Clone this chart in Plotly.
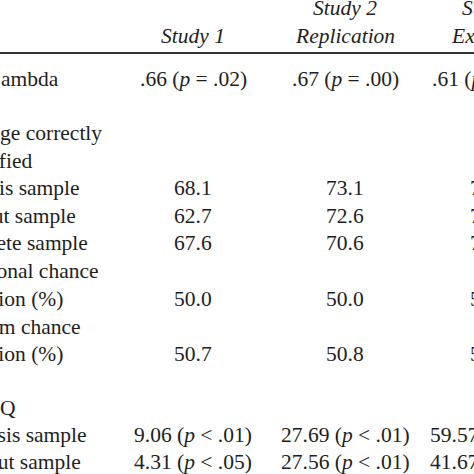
import plotly.graph_objects as go

headers_top = ["", "Study 2", "Study 3"]
headers_bot = ["Study 1", "Replication", "Extension"]
row_labels = ["Wilks' Lambda", "Percentage correctly", "classified", "Analysis sample",
              "Holdout sample", "Complete sample", "Proportional chance", "criterion (%)",
              "Maximum chance", "criterion (%)", "Press's Q", "Analysis sample", "Holdout sample"]
study1 = [".66 (<i>p</i> = .02)", "", "", "68.1", "62.7", "67.6", "", "50.0", "", "50.7", "",
          "9.06 (<i>p</i> < .01)", "4.31 (<i>p</i> < .05)"]
study2 = [".67 (<i>p</i> = .00)", "", "", "73.1", "72.6", "70.6", "", "50.0", "", "50.8", "",
          "27.69 (<i>p</i> < .01)", "27.56 (<i>p</i> < .01)"]
study3 = [".61 (<i>p</i> = .00)", "", "", "75.3", "71.9", "73.6", "", "50.0", "", "50.1", "",
          "59.57 (<i>p</i> < .01)", "41.67 (<i>p</i> < .01)"]

row_y = [79, 133, 161, 188, 216, 243, 271, 299, 327, 354, 408, 435, 462]
label_end = [61, 104, 34, 82, 78, 90, 101, 65, 83, 65, 18, 89, 83]
col_x = [193, 345]
col3_start = [430, 0, 0, 468, 468, 468, 0, 468, 0, 468, 0, 428, 428]

F = dict(family="Liberation Serif, Times New Roman, serif", size=21.5, color="#1e1e1e")
ann = []
for cx, t, b in zip(col_x, headers_top, headers_bot):
    if t:
        ann.append(dict(x=cx, y=8, text=f"<i>{t}</i>", showarrow=False, font=F, xanchor="center", yanchor="middle"))
    ann.append(dict(x=cx, y=36, text=f"<i>{b}</i>", showarrow=False, font=F, xanchor="center", yanchor="middle"))
ann.append(dict(x=460, y=8, text=f"<i>{headers_top[2]}</i>", showarrow=False, font=F, xanchor="left", yanchor="middle"))
ann.append(dict(x=449, y=36, text=f"<i>{headers_bot[2]}</i>", showarrow=False, font=F, xanchor="left", yanchor="middle"))
for lab, y, xe in zip(row_labels, row_y, label_end):
    ann.append(dict(x=xe, y=y, text=lab, showarrow=False, font=F, xanchor="right", yanchor="middle"))
for col, cx in zip([study1, study2], col_x):
    for v, y in zip(col, row_y):
        if v:
            ann.append(dict(x=cx, y=y, text=v, showarrow=False, font=F, xanchor="center", yanchor="middle"))
for v, y, xs in zip(study3, row_y, col3_start):
    if v:
        ann.append(dict(x=xs, y=y, text=v, showarrow=False, font=F, xanchor="left", yanchor="middle"))

fig = go.Figure()
fig.add_shape(type="line", x0=0, x1=474, y0=53, y1=53, line=dict(color="#333", width=2))
fig.update_layout(width=474, height=474, margin=dict(l=0, r=0, t=0, b=0),
                  paper_bgcolor="white", plot_bgcolor="white", annotations=ann,
                  xaxis=dict(range=[0, 474], visible=False, fixedrange=True),
                  yaxis=dict(range=[474, 0], visible=False, fixedrange=True),
                  showlegend=False)
fig.write_html("out.html", config={"displayModeBar": False},
               post_script="document.body.style.margin='0';document.body.style.overflow='hidden';")
